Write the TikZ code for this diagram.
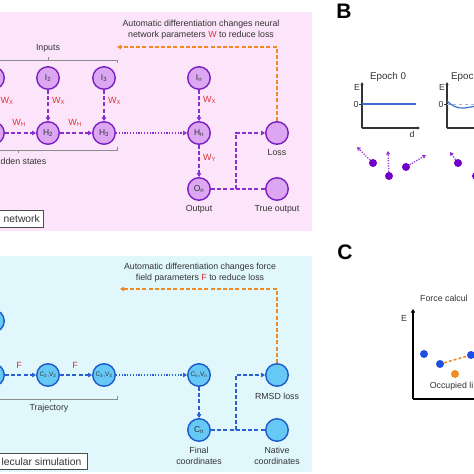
\documentclass[tikz,border=0pt]{standalone}
\usepackage{fontspec}
\setmainfont{Liberation Sans}
\usetikzlibrary{arrows.meta}
\definecolor{pinkbg}{HTML}{FCE4FA}
\definecolor{cyanbg}{HTML}{E0F7FC}
\definecolor{pfill}{HTML}{DCA6F2}
\definecolor{pborder}{HTML}{7A1FC0}
\definecolor{parrow}{HTML}{8A30CC}
\definecolor{bfill}{HTML}{66C8F5}
\definecolor{bborder}{HTML}{1E5AC8}
\definecolor{barrow}{HTML}{2C5FD0}
\definecolor{wred}{HTML}{E0303A}
\definecolor{orangec}{HTML}{F08A24}
\definecolor{txt}{HTML}{333333}
\definecolor{bracketc}{HTML}{8C8C8C}
\definecolor{plotblue}{HTML}{3B6FD0}
\definecolor{dotpurple}{HTML}{7000C8}
\definecolor{dotblue}{HTML}{1E50E6}
\newcommand{\sbs}[1]{\textsubscript{#1}}
\begin{document}
\begin{tikzpicture}[x=1pt,y=-1pt,
  pnode/.style={circle, draw=pborder, fill=pfill, line width=1.4pt, minimum size=22.5pt, inner sep=0pt, font=\fontsize{8.5}{9}\selectfont, text=txt},
  bnode/.style={circle, draw=bborder, fill=bfill, line width=1.4pt, minimum size=22.5pt, inner sep=0pt, font=\fontsize{6.5}{7}\selectfont, text=txt},
  tip/.style={-{Triangle[length=4pt,width=4.5pt]}},
  parr/.style={draw=parrow, line width=1.5pt, dash pattern=on 4pt off 2.2pt, tip},
  pline/.style={draw=parrow, line width=1.5pt, dash pattern=on 4pt off 2.2pt},
  pdots/.style={draw=parrow, line width=1.5pt, dash pattern=on 1.2pt off 1.6pt, tip},
  barr/.style={draw=barrow, line width=1.5pt, dash pattern=on 4pt off 2.2pt, tip},
  bline/.style={draw=barrow, line width=1.5pt, dash pattern=on 4pt off 2.2pt},
  bdots/.style={draw=barrow, line width=1.5pt, dash pattern=on 1.2pt off 1.6pt, tip},
  oarr/.style={draw=orangec, line width=1.5pt, dash pattern=on 4pt off 2.2pt, tip},
  lbl/.style={font=\fontsize{8.8}{11}\selectfont, text=txt, inner sep=0pt},
  wlbl/.style={font=\fontsize{9}{10}\selectfont, text=wred, inner sep=0pt},
  brk/.style={draw=bracketc, line width=0.8pt},
  boxlbl/.style={draw=black!70, fill=white, line width=0.7pt, font=\fontsize{10.3}{11}\selectfont, text=txt},
  axis/.style={draw=txt, line width=1.2pt},
  mdot/.style={circle, fill=dotpurple, minimum size=8pt, inner sep=0pt},
  marr/.style={draw=dotpurple!80, line width=1.3pt, dash pattern=on 1.2pt off 1.4pt, -{Triangle[length=3.5pt,width=4pt]}},
  cdot/.style={circle, fill=dotblue, minimum size=8pt, inner sep=0pt},
  odot/.style={circle, fill=orangec, minimum size=8pt, inner sep=0pt},
  panel/.style={font=\fontsize{21}{22}\selectfont\bfseries, text=black, inner sep=0pt}
]
\useasboundingbox (0,0) rectangle (474,474);
\clip (0,0) rectangle (474,474);
\fill[white] (0,0) rectangle (474,474);
% ---------------- Panel A (RNN) ----------------
\fill[pinkbg] (-5,12) rectangle (312,231);
\node[lbl, align=center] (atext) at (201,29.5) {Automatic differentiation changes neural\\network parameters \textcolor{wred}{W} to reduce loss};
\node[lbl] (inputs) at (48,48) {Inputs};
\draw[brk] (-30,63) -- (-30,60) -- (117,60) -- (117,63);
\draw[brk] (48,60) -- (48,57);
\node[pnode] (I1) at (-7,78) {};
\node[pnode] (I2) at (48,78) {I\sbs{2}};
\node[pnode] (I3) at (104,78) {I\sbs{3}};
\node[pnode] (In) at (199,78) {I\sbs{n}};
\node[pnode] (H1) at (-7,133) {};
\node[pnode] (H2) at (48,133) {H\sbs{2}};
\node[pnode] (H3) at (104,133) {H\sbs{3}};
\node[pnode] (Hn) at (199,133) {H\sbs{n}};
\node[pnode] (On) at (199,189) {O\sbs{n}};
\node[pnode] (Loss) at (277,133) {};
\node[pnode] (True) at (277,189) {};
\draw[parr] (I1) -- (H1);
\draw[parr] (I2) -- (H2);
\draw[parr] (I3) -- (H3);
\draw[parr] (In) -- (Hn);
\draw[parr] (H1) -- (H2);
\draw[parr] (H2) -- (H3);
\draw[pdots] (H3) -- (Hn);
\draw[parr] (Hn) -- (On);
\coordinate (j1) at (236,189);
\draw[pline] (On) -- (True);
\draw[parr] (j1) |- (Loss);
\coordinate (oa1) at (117,47);
\draw[oarr] (Loss.north) |- (oa1);
\node[wlbl, anchor=west] (wx1) at (0.5,101) {W\sbs{X}};
\node[wlbl, anchor=west] (wx2) at (52,101) {W\sbs{X}};
\node[wlbl, anchor=west] (wx3) at (108,101) {W\sbs{X}};
\node[wlbl, anchor=west] (wxn) at (203,100) {W\sbs{X}};
\node[wlbl] (wh1) at (19,123) {W\sbs{H}};
\node[wlbl] (wh2) at (75,123) {W\sbs{H}};
\node[wlbl, anchor=west] (wy) at (203,158) {W\sbs{Y}};
\draw[brk] (-30,147) -- (-30,150) -- (117,150) -- (117,147);
\draw[brk] (18,150) -- (18,153);
\node[lbl, anchor=west] (hid) at (0.5,161.5) {dden states};
\node[lbl] (losst) at (277,153) {Loss};
\node[lbl] (outt) at (199,209) {Output};
\node[lbl] (truet) at (277,209) {True output};
\node[boxlbl, minimum width=90pt, minimum height=17pt, inner sep=0pt] (nbox) at (-2,218.5) {};
\node[lbl, anchor=east, font=\fontsize{10.3}{11}\selectfont] (nett) at (40,219) {network};
% ---------------- Panel B ----------------
\node[panel] (B) at (344,11) {B};
\node[lbl, font=\fontsize{9.8}{11}\selectfont] (ep0) at (388,77) {Epoch 0};
\coordinate (b1o) at (362,128);
\coordinate (b1y) at (362,82);
\coordinate (b1x) at (420,128);
\draw[axis, -{Triangle[length=3pt,width=3pt]}] (b1o) -- (b1y);
\draw[axis, -{Triangle[length=3pt,width=3pt]}] (b1o) -- (b1x);
\node[lbl] (e1) at (357,87) {E};
\node[lbl] (z1) at (356,104) {0};
\draw[axis, line width=0.8pt] (359,104) -- (362,104);
\draw[plotblue, line width=1.2pt] (362,104) -- (416,104);
\node[lbl] (d1) at (412,134) {d};
\node[lbl, anchor=west, font=\fontsize{9.8}{11}\selectfont] (ep1) at (451,77) {Epoc};
\coordinate (b2o) at (447,128);
\coordinate (b2y) at (447,82);
\coordinate (b2x) at (480,128);
\draw[axis, -{Triangle[length=3pt,width=3pt]}] (b2o) -- (b2y);
\draw[axis] (b2o) -- (b2x);
\node[lbl] (e2) at (442,87) {E};
\node[lbl] (z2) at (441,104) {0};
\draw[axis, line width=0.8pt] (444,104) -- (447,104);
\draw[plotblue!50, line width=0.8pt, dashed] (447,104) -- (476,104);
\draw[plotblue, line width=1.2pt] (447,101) .. controls (452,106) and (457,108.5) .. (464,108) .. controls (469,107.5) and (473,106.5) .. (477,106);
\node[mdot] (m1) at (373,163) {};
\node[mdot] (m2) at (389,176) {};
\node[mdot] (m3) at (406,167) {};
\node[mdot] (m4) at (458,163) {};
\node[mdot] (m5) at (476,176) {};
\coordinate (m1t) at (357,147);
\coordinate (m2t) at (388,151);
\coordinate (m3t) at (426,155);
\coordinate (m4t) at (450,152);
\draw[marr] (m1) -- (m1t);
\draw[marr] (m2) -- (m2t);
\draw[marr] (m3) -- (m3t);
\draw[marr] (m4) -- (m4t);
% ---------------- Panel C ----------------
\node[panel] (C) at (345,252) {C};
\node[lbl, anchor=west] (fc) at (420,298) {Force calcul};
\coordinate (co) at (413,399);
\coordinate (cy) at (413,309);
\coordinate (cx) at (480,399);
\draw[axis, line width=1.5pt, draw=black, -{Triangle[length=3.5pt,width=4pt]}] (co) -- (cy);
\draw[axis, line width=1.5pt, draw=black] (co) -- (cx);
\node[lbl] (ce) at (404,318) {E};
\node[cdot] (c1) at (424,354) {};
\node[cdot] (c2) at (440,364) {};
\node[cdot] (c3) at (471,355) {};
\node[odot] (o1) at (455,374) {};
\draw[orangec, line width=1.5pt, dash pattern=on 3pt off 2pt] (c2) -- (c3);
\node[lbl, anchor=east] (occ) at (473.5,386) {Occupied li};
% ---------------- Panel D (MD) ----------------
\fill[cyanbg] (-5,256) rectangle (312,472);
\node[lbl, align=center] (btext) at (200,273) {Automatic differentiation changes force\\field parameters \textcolor{wred}{F} to reduce loss};
\node[bnode] (S0) at (-7,321) {};
\node[bnode] (C1) at (-7,375) {};
\node[bnode] (C2) at (48,375) {C\sbs{2},V\sbs{2}};
\node[bnode] (C3) at (104,375) {C\sbs{3},V\sbs{3}};
\node[bnode] (Cn) at (199,375) {C\sbs{n},V\sbs{n}};
\node[bnode, font=\fontsize{8.5}{9}\selectfont] (Cf) at (199,430) {C\sbs{n}};
\node[bnode] (Rm) at (277,375) {};
\node[bnode] (Nat) at (277,430) {};
\draw[barr] (S0) -- (C1);
\draw[barr] (C1) -- (C2);
\draw[barr] (C2) -- (C3);
\draw[bdots] (C3) -- (Cn);
\draw[barr] (Cn) -- (Cf);
\coordinate (j2) at (236,430);
\draw[bline] (Cf) -- (Nat);
\draw[barr] (j2) |- (Rm);
\coordinate (oa2) at (120,289);
\draw[oarr] (Rm.north) |- (oa2);
\node[wlbl] (f1) at (19,365) {F};
\node[wlbl] (f2) at (75,365) {F};
\draw[brk] (-30,402) -- (-30,399) -- (117,399) -- (117,396);
\draw[brk] (50,399) -- (50,402);
\node[lbl] (traj) at (49,408) {Trajectory};
\node[lbl] (rmt) at (277,396) {RMSD loss};
\node[lbl, align=center] (fint) at (199,456) {Final\\coordinates};
\node[lbl, align=center] (natt) at (277,456) {Native\\coordinates};
\node[boxlbl, minimum width=140pt, minimum height=15.5pt, inner sep=0pt] (mbox) at (17,461.5) {};
\node[lbl, anchor=west, font=\fontsize{10.3}{11}\selectfont] (molt) at (1.5,461.5) {lecular simulation};
\end{tikzpicture}
\end{document}
